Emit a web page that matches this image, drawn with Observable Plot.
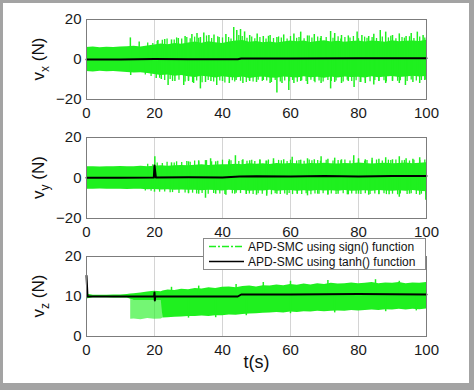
<!DOCTYPE html>
<html>
<head>
<meta charset="utf-8">
<script src="https://cdn.jsdelivr.net/npm/d3@7"></script>
<script src="https://cdn.jsdelivr.net/npm/@observablehq/plot@0.6"></script>
<style>
  html, body { margin: 0; padding: 0; background: #fff; }
  #fig { position: relative; width: 474px; height: 390px; background: #a3a3a3; overflow: hidden; font-family: "Liberation Sans", Arial, sans-serif; }
  #paper { position: absolute; left: 3px; top: 3px; width: 466px; height: 380px; background: #fff; }
  .panel { position: absolute; left: 0; }
  #legend { position: absolute; left: 203px; top: 238px; width: 221px; height: 30px; border: 1px solid #8a8a8a; background: #fff; font-size: 12px; color: #111; }
  #legend .row { position: absolute; left: 0; height: 15px; display: flex; align-items: center; }
  #legend svg { margin-left: 5px; margin-right: 4px; }
</style>
</head>
<body>
<div id="fig">
  <div id="paper"></div>
  <div id="p1" class="panel" style="top:0px"></div>
  <div id="p2" class="panel" style="top:118px"></div>
  <div id="p3" class="panel" style="top:237px"></div>
  <div id="legend"></div>
</div>
<script>
// ---------- data ----------
const seriesNames = ["APD-SMC using sign() function", "APD-SMC using tanh() function"];
const xTicks = [0, 20, 40, 60, 80, 100];
const yTicksXY = [-20, 0, 20];
const yTicksZ = [0, 10, 20];

// envelope sample times (s)
const envT = [0,2,4,6,8,10,12,14,16,18,20,22,24,26,28,30,32,34,36,38,40,42,44,46,48,50,52,54,56,58,60,62,64,66,68,70,72,74,76,78,80,82,84,86,88,90,92,94,96,98,100];
// times of the small chattering peaks above / below the dense band
const smallUpT = [18,19.5,20.8,22.3,23.7,25.8,26.5,28,29.5,30.5,31.8,33,35.3,36.8,38.6,40,41.8,42.5,44.8,45.8,47.2,48.6,49.5,51,52.8,53.5,55,56.5,57.3,59,60,61.8,62.5,64,65.5,66.3,68,68.8,70.5,72.5,74,74.8,76,77.5,78.5,80,81.8,82.5,84,85.3,87,88.8,89.5,91,92.8,93.5,95,96.3,98,99.5];
const smallDnT = [17.3,19,21.5,23,24.6,25.3,27.2,29,30,31.2,32.4,34,35.8,37.4,39.2,40.7,42.9,43.6,45.3,47,47.9,49,50.5,51.7,53,54.4,55.5,57,58.3,59.6,60.6,62,63.3,64.6,66,67.2,68.4,69.6,71,72,73.4,75.5,76.7,78,79.3,80.7,82,83.4,84.8,86,87.5,88.2,90,91.5,92.3,94.3,95.5,97,98.5,99.8];

// v_x, sign(): dense band edges
const vxHi = [6.0,6.2,5.9,6.1,6.0,6.2,6.4,6.6,6.3,6.8,7.2,7.8,7.4,8.0,7.6,8.3,8.8,8.1,8.9,8.4,8.0,8.7,9.2,9.5,8.6,9.0,8.4,8.8,8.2,8.7,9.3,8.9,9.2,8.5,9.0,9.4,8.8,9.1,8.6,9.0,9.3,8.7,9.2,9.0,8.6,9.4,8.9,9.1,9.3,9.0,9.6];
const vxLo = [-6.0,-6.2,-5.9,-6.1,-6.0,-6.3,-6.5,-6.8,-6.6,-7.0,-7.5,-8.0,-7.8,-8.4,-8.0,-8.6,-9.0,-8.4,-8.8,-9.2,-8.6,-9.0,-9.3,-8.8,-9.5,-9.0,-8.7,-9.2,-9.4,-8.8,-9.0,-9.3,-8.6,-9.1,-8.9,-9.4,-8.8,-9.2,-8.7,-9.0,-8.9,-9.3,-8.6,-9.1,-8.8,-8.5,-9.0,-8.7,-8.4,-8.8,-8.5];
// v_x, sign(): tall isolated spikes
const vxSpikeT = [12.9,15.5,21,23,25,27,29,31,32.5,33.5,34.5,36,37.5,39,41,43.3,44.2,45.3,46.5,48,50.2,52,54,56,58,61,63,65,67,69,71.8,73,75,77,79.6,81,83,84.5,86.4,88,90,92,94,95.5,97.3,99,
                  13,20.5,22,24,26,28.6,30,31.5,33.5,35,36.6,38.3,40,42,44,46,48,50,52,54,56,57.5,59.5,61,63,65,67,69,71.8,73,75,77,78.7,80.5,82,84.5,86,88,90,92,93.8,96,98,99.5];
const vxSpikeV = [10.8,8.8,9.5,10,9.8,10.5,11.5,12.5,13,11,13.3,12,12.2,11,12.5,16,14.5,15,13.8,12,12.8,11.5,12,11,12.3,12.8,13.7,11.8,12.5,11.5,14,13,12,11.8,13.7,12,11.5,12.6,14.5,13.7,12,12.8,11.5,13,13.7,12,
                  -8,-9.5,-10,-13,-11,-13,-11,-12,-14.7,-11.5,-11,-13,-11,-12,-10.5,-12,-11,-11.5,-10.5,-12,-16.7,-12,-15.5,-12,-11,-12.5,-11,-12,-14.7,-11.5,-12,-11,-14,-11.5,-12,-12.7,-11,-12,-11,-12,-13,-11.5,-12,-10.5];
// v_x, sign(): small peaks
const vxSmallUpV = [8.2,8.0,9.0,9.6,10.2,9.8,10.8,10.2,11.0,10.4,11.2,10.6,11.8,10.5,11.4,10.8,11.0,10.3,12.0,11.5,10.6,11.2,10.4,11.0,10.2,11.6,10.5,11.3,10.8,10.3,11.5,10.6,11.0,10.4,11.8,10.7,11.2,10.5,11.0,10.6,11.4,10.3,11.0,10.8,11.5,10.4,11.2,10.6,11.0,10.5,11.3,10.8,11.6,10.4,11.0,10.7,11.4,10.5,11.2,10.8];
const vxSmallDnV = [-7.8,-8.5,-9.4,-10.5,-10.0,-11.0,-10.4,-11.3,-10.6,-11.5,-10.8,-11.6,-10.5,-11.2,-10.7,-11.8,-10.6,-11.3,-10.9,-11.5,-10.6,-11.2,-10.4,-11.0,-10.7,-11.5,-10.5,-11.3,-10.8,-11.1,-10.5,-11.4,-10.6,-11.0,-10.4,-11.6,-10.8,-11.2,-10.5,-11.0,-10.7,-11.3,-10.4,-11.0,-10.6,-11.5,-10.8,-11.1,-10.5,-10.9,-10.6,-11.2,-10.4,-10.9,-10.6,-11.0,-10.3,-10.8,-10.5,-10.2];
// v_x, tanh()
const vxLineT = [0,10,20,30,40,44.5,45.5,60,80,100];
const vxLineV = [0,0,0.2,0.1,0.1,0.1,0.5,0.5,0.6,0.6];

// v_y, sign()
const vyHi = [5.5,5.6,5.4,5.6,5.5,5.7,5.6,5.5,5.8,5.6,5.8,6.0,5.8,6.0,6.2,6.0,6.3,6.5,6.2,6.4,6.6,6.5,6.8,6.6,7.0,6.8,7.0,6.7,7.1,6.9,7.2,7.0,6.8,7.2,7.0,7.3,7.0,6.9,7.2,7.0,7.4,7.1,6.9,7.2,7.3,7.0,7.2,7.4,7.0,7.3,7.5];
const vyLo = [-5.5,-5.6,-5.4,-5.5,-5.6,-5.5,-5.7,-5.6,-5.5,-5.8,-5.7,-5.9,-5.8,-6.0,-5.9,-6.1,-6.0,-6.3,-6.0,-6.2,-6.4,-6.1,-6.3,-6.2,-6.5,-6.3,-6.4,-6.1,-6.5,-6.3,-6.2,-6.5,-6.3,-6.6,-6.2,-6.4,-6.3,-6.5,-6.2,-6.6,-6.4,-6.3,-6.5,-6.2,-6.4,-6.6,-6.3,-6.5,-6.2,-6.6,-6.8];
const vySpikeT = [20.1,25,30,33,35,36.5,38,42,43.8,46,48,51,53,55,58,60.5,63,65,67,69,71,73,75,78.6,80,82,84,86,88,90,92,94,96,98,
                  20,30,33,35,38,41,44,47,50,53,56,59,62,65,68,71,74,77,80,83,86,89,92,95,98,99.8];
const vySpikeV = [10.5,7.5,8,8.5,8.6,9.5,8,9,11,9,8.5,9,8.3,9.5,9,10.2,8.8,9.5,9,10.5,9.2,9.8,9,11,9.5,9,9.8,9.2,10,9,10.5,9.5,9.3,10,
                  -7,-7.5,-8,-10,-8,-8.5,-7.5,-8,-8.5,-9,-8,-8.5,-8,-8.8,-8,-8.5,-8,-8.3,-8,-8.5,-8,-8.3,-9.5,-8,-8.5,-11];
const vySmallUpV = [6.8,6.6,7.4,7.2,7.8,7.4,8.0,7.6,8.2,7.8,8.4,7.9,8.6,8.0,8.3,8.8,8.1,8.5,8.2,8.7,8.3,8.8,8.2,8.6,8.4,8.9,8.3,8.7,8.5,8.2,8.8,8.4,8.7,8.3,8.9,8.5,8.6,8.3,8.8,8.4,8.7,8.5,8.9,8.4,8.6,8.8,8.3,8.7,8.5,8.9,8.4,8.8,8.6,8.9,8.5,8.7,8.4,8.8,8.6,8.9];
const vySmallDnV = [-6.4,-6.5,-7.0,-6.9,-7.3,-7.2,-7.6,-7.4,-7.8,-7.5,-7.9,-7.6,-8.0,-7.7,-7.9,-8.2,-7.8,-8.0,-7.7,-8.1,-7.9,-8.2,-7.8,-8.0,-7.9,-8.3,-7.8,-8.1,-7.9,-7.7,-8.2,-7.9,-8.1,-7.8,-8.3,-7.9,-8.0,-7.8,-8.2,-7.9,-8.1,-7.8,-8.3,-7.9,-8.0,-8.2,-7.8,-8.1,-7.9,-8.3,-7.8,-8.2,-8.0,-8.3,-7.9,-8.1,-7.8,-8.2,-8.0,-8.4];
const vyLineT = [0,10,19.8,20,20.4,30,40,45,50,60,70,80,90,100];
const vyLineV = [0.1,0.1,0.2,6.2,0.3,0.4,0.3,0.8,0.9,0.7,1,0.8,1,1];

// v_z, sign(): solid band
const vzT  = [0,2,4,6,8,10,12,13,14,16,18,20,22,22.5,24,26,28,30,32,34,36,38,40,42,44,46,48,50,52,54,56,58,60,62,64,66,68,70,72,74,76,78,80,82,84,86,88,90,92,94,96,98,100];
const vzHi = [10.6,10.3,10.3,10.3,10.4,10.4,10.5,10.6,10.7,10.9,11.1,11.3,11.2,11.4,11.6,11.5,11.8,11.7,12.0,11.9,12.2,12.0,12.3,12.4,12.2,12.5,12.6,12.4,12.7,12.6,12.9,12.7,13.0,12.8,13.1,12.9,13.2,13.0,13.3,13.1,13.2,13.4,13.2,13.3,13.5,13.2,13.4,13.3,13.5,13.2,13.4,13.3,13.5];
const vzLo = [9.4,9.7,9.7,9.7,9.6,9.6,9.6,9.3,9.0,9.0,9.0,9.0,9.0,4.6,4.7,4.8,4.9,5.0,5.0,5.1,5.0,5.2,5.2,5.4,5.3,5.5,5.6,5.7,5.8,5.9,6.0,5.9,6.1,6.0,6.2,6.1,6.3,6.2,6.3,6.4,6.3,6.5,6.4,6.5,6.6,6.5,6.7,6.6,6.8,6.6,6.8,6.7,6.9];
// v_z, sign(): sparse dash-dot part between ~13 s and ~22 s
const vzSparseT  = [13,14,16,18,20,22,22.5];
const vzSparseLo = [4.3,4.4,4.2,4.5,4.3,4.4,4.6];
const vzSparseHi = [9.3,9.0,9.0,9.0,9.0,9.0,9.0];
const vzSpikeT = [25,33,44,52,60,71,85,92,30,38,47,60,73,88,97];
const vzSpikeV = [12.3,12.6,13,13.5,13.8,14,14.2,13.8,4.6,4.7,5.2,5.7,5.9,6.2,6.4];
// v_z, tanh()
const vzLineT = [0,0.3,10,19.9,20,20.1,20.2,30,44.5,45.5,60,80,100];
const vzLineV = [15.2,10,10,10,11,9,10,10,10,10.5,10.5,10.6,10.5];

// ---------- drawing ----------
const green = "#1ff01f";
const font = "'Liberation Sans', Arial, Helvetica, sans-serif";

function rows(t, a, b) { return t.map((d, i) => ({t: d, a: a[i], b: b ? b[i] : undefined})); }

function panel({el, yDomain, yTicks, hi, lo, envTimes, spikeT, spikeV, spikeBase, small, lineT, lineV, sub, sparse, xLabel, marginBottom}) {
  const innerH = el === "#p2" ? 81 : 80;
  const height = 19 + innerH + marginBottom;
  const marks = [
    Plot.gridX(xTicks.slice(1, -1), {stroke: "#d4d4d4", strokeOpacity: 1, strokeWidth: 1}),
  ];
  if (sparse) {
    marks.push(Plot.areaY(rows(sparse.t, sparse.lo, sparse.hi), {x: "t", y1: "a", y2: "b", fill: green, fillOpacity: 0.62}));
  }
  marks.push(Plot.areaY(rows(envTimes, lo, hi), {x: "t", y1: "a", y2: "b", fill: green}));
  if (small) {
    marks.push(
      Plot.ruleX(rows(smallUpT, small.up), {x: "t", y1: () => spikeBase, y2: "a", stroke: green, strokeWidth: 1.3}),
      Plot.ruleX(rows(smallDnT, small.dn), {x: "t", y1: () => spikeBase, y2: "a", stroke: green, strokeWidth: 1.3})
    );
  }
  marks.push(
    Plot.ruleX(rows(spikeT, spikeV), {x: "t", y1: () => spikeBase, y2: "a", stroke: green, strokeWidth: 1.5}),
    Plot.line(rows(lineT, lineV), {x: "t", y: "a", stroke: "#000", strokeWidth: 2}),
    Plot.frame({stroke: "#7c7c7c", strokeWidth: 1}),
    Plot.axisX(xTicks, {tickSize: 0, tickPadding: 8, label: null, fontSize: 15}),
    Plot.axisY(yTicks, {tickSize: 0, tickPadding: 5, label: null, fontSize: 15})
  );
  if (xLabel) marks.push(Plot.text([xLabel], {frameAnchor: "bottom", dy: 31, fontSize: 18, fill: "#111"}));
  const svg = Plot.plot({
    width: 474, height,
    marginLeft: 86, marginRight: 48, marginTop: 19, marginBottom,
    style: {fontFamily: font, fontSize: "15px", color: "#1a1a1a", background: "transparent", overflow: "visible"},
    x: {domain: [0, 100]},
    y: {domain: yDomain},
    marks
  });
  // rotated y label with subscript
  const cy = 19 + innerH / 2;
  const t = d3.select(svg).append("text")
    .attr("transform", `translate(44,${cy}) rotate(-90)`)
    .attr("text-anchor", "middle")
    .attr("font-family", font)
    .attr("font-size", 17)
    .attr("fill", "#111");
  t.append("tspan").text("v");
  t.append("tspan").attr("font-size", 12).attr("dy", 5).text(sub);
  t.append("tspan").attr("dy", -5).text(" (N)");
  document.querySelector(el).appendChild(svg);
}

panel({el: "#p1", yDomain: [-20, 20], yTicks: yTicksXY, hi: vxHi, lo: vxLo, envTimes: envT,
       spikeT: vxSpikeT, spikeV: vxSpikeV, spikeBase: 0, small: {up: vxSmallUpV, dn: vxSmallDnV},
       lineT: vxLineT, lineV: vxLineV, sub: "x", marginBottom: 19});
panel({el: "#p2", yDomain: [-20, 20], yTicks: yTicksXY, hi: vyHi, lo: vyLo, envTimes: envT,
       spikeT: vySpikeT, spikeV: vySpikeV, spikeBase: 0, small: {up: vySmallUpV, dn: vySmallDnV},
       lineT: vyLineT, lineV: vyLineV, sub: "y", marginBottom: 19});
panel({el: "#p3", yDomain: [0, 20], yTicks: yTicksZ, hi: vzHi, lo: vzLo, envTimes: vzT,
       spikeT: vzSpikeT, spikeV: vzSpikeV, spikeBase: 10, lineT: vzLineT, lineV: vzLineV, sub: "z",
       sparse: {t: vzSparseT, lo: vzSparseLo, hi: vzSparseHi}, xLabel: "t(s)", marginBottom: 50});

// legend
const legend = d3.select("#legend");
[[green, "7,2,2,2", 0], ["#000", null, 1]].forEach(([color, dash, i]) => {
  const row = legend.append("div").attr("class", "row").style("top", (i === 0 ? 0 : 15) + "px");
  const s = row.append("svg").attr("width", 35).attr("height", 15);
  s.append("line").attr("x1", 0).attr("x2", 35).attr("y1", 7.5).attr("y2", 7.5)
    .attr("stroke", color).attr("stroke-width", i === 0 ? 1.5 : 1.3)
    .attr("stroke-dasharray", dash);
  row.append("span").text(seriesNames[i]);
});
</script>
</body>
</html>
